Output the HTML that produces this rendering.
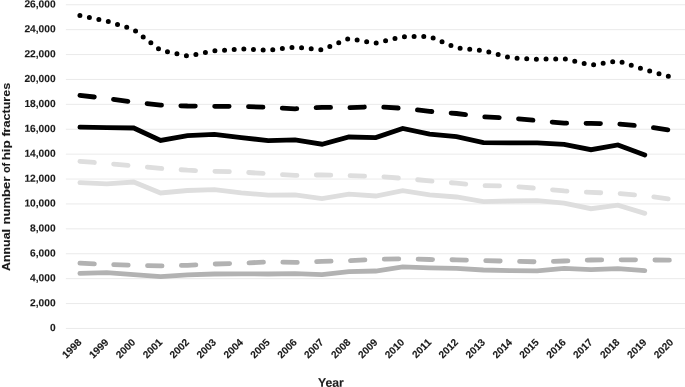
<!DOCTYPE html>
<html lang="en"><head><meta charset="utf-8"><title>Annual number of hip fractures</title>
<style>html,body{margin:0;padding:0;background:#fff;overflow:hidden}svg{display:block}text{font-family:"Liberation Sans",sans-serif;font-weight:bold;fill:#1a1a1a;stroke:#1a1a1a;stroke-width:0.12px}</style></head><body>
<svg width="685" height="387" viewBox="0 0 685 387">
<rect width="685" height="387" fill="#fff"/>
<g stroke="#e4e4e4" stroke-width="0.8">
<line x1="65.9" y1="4.75" x2="685" y2="4.75"/>
<line x1="65.9" y1="29.65" x2="685" y2="29.65"/>
<line x1="65.9" y1="54.55" x2="685" y2="54.55"/>
<line x1="65.9" y1="79.45" x2="685" y2="79.45"/>
<line x1="65.9" y1="104.35" x2="685" y2="104.35"/>
<line x1="65.9" y1="129.25" x2="685" y2="129.25"/>
<line x1="65.9" y1="154.15" x2="685" y2="154.15"/>
<line x1="65.9" y1="179.05" x2="685" y2="179.05"/>
<line x1="65.9" y1="203.95" x2="685" y2="203.95"/>
<line x1="65.9" y1="228.85" x2="685" y2="228.85"/>
<line x1="65.9" y1="253.75" x2="685" y2="253.75"/>
<line x1="65.9" y1="278.65" x2="685" y2="278.65"/>
<line x1="65.9" y1="303.55" x2="685" y2="303.55"/>
<line x1="65.9" y1="328.45" x2="685" y2="328.45"/>
</g>
<g font-size="10.2" text-anchor="end">
<text transform="translate(55.6 7.40) rotate(0.05)">26,000</text>
<text transform="translate(55.6 32.30) rotate(0.05)">24,000</text>
<text transform="translate(55.6 57.20) rotate(0.05)">22,000</text>
<text transform="translate(55.6 82.10) rotate(0.05)">20,000</text>
<text transform="translate(55.6 107.00) rotate(0.05)">18,000</text>
<text transform="translate(55.6 131.90) rotate(0.05)">16,000</text>
<text transform="translate(55.6 156.80) rotate(0.05)">14,000</text>
<text transform="translate(55.6 181.70) rotate(0.05)">12,000</text>
<text transform="translate(55.6 206.60) rotate(0.05)">10,000</text>
<text transform="translate(55.6 231.50) rotate(0.05)">8,000</text>
<text transform="translate(55.6 256.40) rotate(0.05)">6,000</text>
<text transform="translate(55.6 281.30) rotate(0.05)">4,000</text>
<text transform="translate(55.6 306.20) rotate(0.05)">2,000</text>
<text transform="translate(55.6 331.10) rotate(0.05)">0</text>
</g>
<g font-size="10.2" text-anchor="end">
<text transform="translate(79.80 340.60) rotate(-45)" x="0" y="3.5">1998</text>
<text transform="translate(106.70 340.60) rotate(-45)" x="0" y="3.5">1999</text>
<text transform="translate(133.60 340.60) rotate(-45)" x="0" y="3.5">2000</text>
<text transform="translate(160.50 340.60) rotate(-45)" x="0" y="3.5">2001</text>
<text transform="translate(187.40 340.60) rotate(-45)" x="0" y="3.5">2002</text>
<text transform="translate(214.30 340.60) rotate(-45)" x="0" y="3.5">2003</text>
<text transform="translate(241.20 340.60) rotate(-45)" x="0" y="3.5">2004</text>
<text transform="translate(268.10 340.60) rotate(-45)" x="0" y="3.5">2005</text>
<text transform="translate(295.00 340.60) rotate(-45)" x="0" y="3.5">2006</text>
<text transform="translate(321.90 340.60) rotate(-45)" x="0" y="3.5">2007</text>
<text transform="translate(348.80 340.60) rotate(-45)" x="0" y="3.5">2008</text>
<text transform="translate(375.70 340.60) rotate(-45)" x="0" y="3.5">2009</text>
<text transform="translate(402.60 340.60) rotate(-45)" x="0" y="3.5">2010</text>
<text transform="translate(429.50 340.60) rotate(-45)" x="0" y="3.5">2011</text>
<text transform="translate(456.40 340.60) rotate(-45)" x="0" y="3.5">2012</text>
<text transform="translate(483.30 340.60) rotate(-45)" x="0" y="3.5">2013</text>
<text transform="translate(510.20 340.60) rotate(-45)" x="0" y="3.5">2014</text>
<text transform="translate(537.10 340.60) rotate(-45)" x="0" y="3.5">2015</text>
<text transform="translate(564.00 340.60) rotate(-45)" x="0" y="3.5">2016</text>
<text transform="translate(590.90 340.60) rotate(-45)" x="0" y="3.5">2017</text>
<text transform="translate(617.80 340.60) rotate(-45)" x="0" y="3.5">2018</text>
<text transform="translate(644.70 340.60) rotate(-45)" x="0" y="3.5">2019</text>
<text transform="translate(671.60 340.60) rotate(-45)" x="0" y="3.5">2020</text>
</g>
<text transform="translate(330.8 386.7) rotate(0.05)" font-size="12.2" text-anchor="middle">Year</text>
<text transform="translate(10.3 271.0) rotate(-90)" font-size="11.7"><tspan x="0.0" textLength="42.0" lengthAdjust="spacingAndGlyphs">Annual</tspan> <tspan x="46.5" textLength="47.9" lengthAdjust="spacingAndGlyphs">number</tspan> <tspan x="97.9" textLength="10.4" lengthAdjust="spacingAndGlyphs">of</tspan> <tspan x="110.7" textLength="20.1" lengthAdjust="spacingAndGlyphs">hip</tspan> <tspan x="134.4" textLength="53.8" lengthAdjust="spacingAndGlyphs">fractures</tspan></text>
<g fill="none" stroke-width="4.8" stroke-linecap="round" stroke-linejoin="miter">
<polyline points="79.90,273.40 106.80,272.60 133.70,274.60 160.60,276.70 187.50,274.80 214.40,274.00 241.30,273.80 268.20,274.00 295.10,273.60 322.00,274.70 348.90,271.60 375.80,271.00 402.70,266.80 429.60,267.80 456.50,268.40 483.40,270.00 510.30,270.60 537.20,270.80 564.10,268.40 591.00,269.60 617.90,268.60 644.80,270.60" stroke="#b2b2b2" />
<polyline points="79.90,263.10 106.80,264.40 133.70,265.40 160.60,265.90 187.50,265.30 214.40,264.00 241.30,263.20 268.20,261.90 295.10,262.40 322.00,261.40 348.90,260.80 375.80,259.40 402.70,258.80 429.60,259.50 456.50,259.80 483.40,260.60 510.30,261.20 537.20,261.80 564.10,261.00 591.00,260.00 617.90,259.80 644.80,259.90 671.70,260.20" stroke="#b2b2b2" stroke-dasharray="14.50 19.34"/>
<polyline points="79.90,182.60 106.80,183.80 133.70,182.00 160.60,193.00 187.50,190.50 214.40,189.60 241.30,192.80 268.20,195.20 295.10,194.80 322.00,198.60 348.90,194.20 375.80,196.00 402.70,190.70 429.60,194.80 456.50,197.00 483.40,201.60 510.30,201.00 537.20,200.60 564.10,203.20 591.00,208.70 617.90,205.20 644.80,213.40" stroke="#dedede" />
<polyline points="79.90,161.40 106.80,163.40 133.70,165.90 160.60,168.40 187.50,170.20 214.40,171.30 241.30,172.00 268.20,173.80 295.10,175.40 322.00,174.90 348.90,175.60 375.80,176.40 402.70,178.30 429.60,180.90 456.50,183.20 483.40,185.60 510.30,186.20 537.20,188.30 564.10,190.90 591.00,192.40 617.90,193.40 644.80,195.70 671.70,199.30" stroke="#dedede" stroke-dasharray="14.50 19.34"/>
<polyline points="79.90,127.20 106.80,127.70 133.70,128.00 160.60,140.40 187.50,135.70 214.40,134.40 241.30,137.60 268.20,140.60 295.10,139.80 322.00,144.20 348.90,137.00 375.80,137.60 402.70,128.40 429.60,134.20 456.50,136.60 483.40,142.60 510.30,142.80 537.20,142.80 564.10,144.40 591.00,149.70 617.90,145.00 644.80,155.00" stroke="#000" />
<polyline points="79.90,95.40 106.80,98.40 133.70,102.20 160.60,105.10 187.50,106.00 214.40,106.30 241.30,106.40 268.20,107.40 295.10,108.80 322.00,107.40 348.90,107.60 375.80,106.60 402.70,108.30 429.60,111.30 456.50,113.50 483.40,116.80 510.30,118.10 537.20,120.60 564.10,123.20 591.00,123.30 617.90,124.00 644.80,126.40 671.70,130.40" stroke="#000" stroke-dasharray="14.50 19.34"/>
<polyline points="79.90,15.60 106.80,21.00 133.70,29.60 160.60,50.40 187.50,56.00 214.40,50.90 241.30,48.90 268.20,50.40 295.10,47.00 322.00,49.80 348.90,38.60 375.80,43.20 402.70,36.70 429.60,36.50 456.50,47.90 483.40,50.60 510.30,57.80 537.20,59.20 564.10,58.80 591.00,65.20 617.90,60.80 644.80,69.70 671.70,77.20" stroke="#000" stroke-width="5" stroke-dasharray="0 9.67"/>
</g>
</svg></body></html>
